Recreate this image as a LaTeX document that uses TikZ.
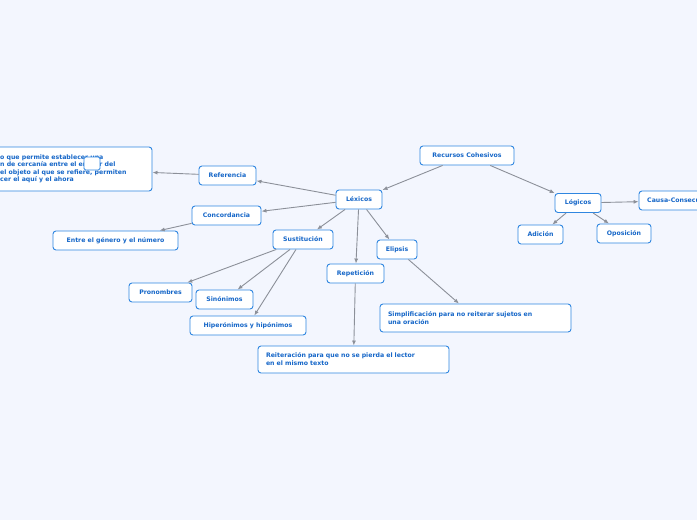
\documentclass[tikz,border=0pt]{standalone}
\usepackage{fontspec}
\setmainfont{DejaVu Sans}
\usetikzlibrary{arrows.meta}
\definecolor{bg}{HTML}{F3F6FE}
\definecolor{bd}{HTML}{2F86E0}
\definecolor{tx}{HTML}{1566C8}
\definecolor{ln}{HTML}{8C9099}
\begin{document}
\begin{tikzpicture}[x=1pt,y=-1pt,
  box/.style={draw=bd,line width=0.9pt,fill=white,rounded corners=3pt,inner sep=0pt,
    text=tx,font=\bfseries\fontsize{6.2}{8}\selectfont,align=center},
  con/.style={draw=ln,line width=0.9pt,-{Latex[length=5pt,width=4pt]}}]
\clip (0,0) rectangle (697,520);
\fill[bg] (0,0) rectangle (697,520);
\node[box,minimum width=94pt,minimum height=19pt] (rc) at (467,155.5) {Recursos Cohesivos};
\node[box,minimum width=46pt,minimum height=19pt] (lex) at (359,199.5) {Léxicos};
\node[box,minimum width=46pt,minimum height=19pt] (log) at (578,203) {Lógicos};
\node[box,minimum width=110pt,minimum height=19pt] (cc) at (694,200.5) {};
\node[anchor=west,text=tx,font=\bfseries\fontsize{6.2}{8}\selectfont,inner sep=0pt] (cct) at (647,200.5) {Causa-Consecuencia};
\node[box,minimum width=45pt,minimum height=19pt] (adi) at (540.5,234.5) {Adición};
\node[box,minimum width=54pt,minimum height=19pt] (opo) at (624,233.5) {Oposición};
\node[box,minimum width=57pt,minimum height=19pt] (ref) at (227.5,175.5) {Referencia};
\node[box,minimum width=170pt,minimum height=44pt] (big) at (67,169) {};
\node[anchor=west,align=left,text=tx,font=\bfseries\fontsize{6.2}{7.5}\selectfont,inner sep=0pt] (bigt) at (0,169) {o que permite establecer una\\n de cercanía entre el emisor del\\el objeto al que se refiere, permiten\\cer el aquí y el ahora};
\draw[bd,line width=0.8pt,fill=white,rounded corners=1.5pt] (84,157) rectangle (100,170);
\node[box,minimum width=69pt,minimum height=19pt] (con) at (226.5,215.5) {Concordancia};
\node[box,minimum width=125pt,minimum height=19pt] (ent) at (115.5,240.5) {Entre el género y el número};
\node[box,minimum width=60pt,minimum height=19pt] (sus) at (303,239.5) {Sustitución};
\node[box,minimum width=40pt,minimum height=19pt] (eli) at (397,249.5) {Elipsis};
\node[box,minimum width=57pt,minimum height=19pt] (rep) at (355.5,273.5) {Repetición};
\node[box,minimum width=63pt,minimum height=19pt] (pro) at (160.5,292.5) {Pronombres};
\node[box,minimum width=57pt,minimum height=19pt] (sin) at (224.5,299.5) {Sinónimos};
\node[box,minimum width=116pt,minimum height=19pt] (hip) at (248,325.5) {Hiperónimos y hipónimos};
\node[box,minimum width=191pt,minimum height=28pt,align=left,text width=175pt] (sim) at (475.5,318) {Simplificación para no reiterar sujetos en\\una oración};
\node[box,minimum width=191pt,minimum height=27pt,align=left,text width=175pt] (rei) at (353.5,359.5) {Reiteración para que no se pierda el lector\\en el mismo texto};
\draw[con] (rc) -- (lex);
\draw[con] (rc) -- (log);
\draw[con] (lex) -- (ref);
\draw[con] (ref) -- (big);
\draw[con] (lex) -- (con);
\draw[con] (con) -- (ent);
\draw[con] (lex) -- (sus);
\draw[con] (lex) -- (rep);
\draw[con] (lex) -- (eli);
\draw[con] (sus) -- (pro);
\draw[con] (sus) -- (sin);
\draw[con] (sus.south) ++(-7,0) -- (hip);
\draw[con] (rep) -- (rei);
\draw[con] (eli) -- (sim);
\draw[con] (log) -- (cc);
\draw[con] (log) -- (adi);
\draw[con] (log) -- (opo);
\end{tikzpicture}
\end{document}
